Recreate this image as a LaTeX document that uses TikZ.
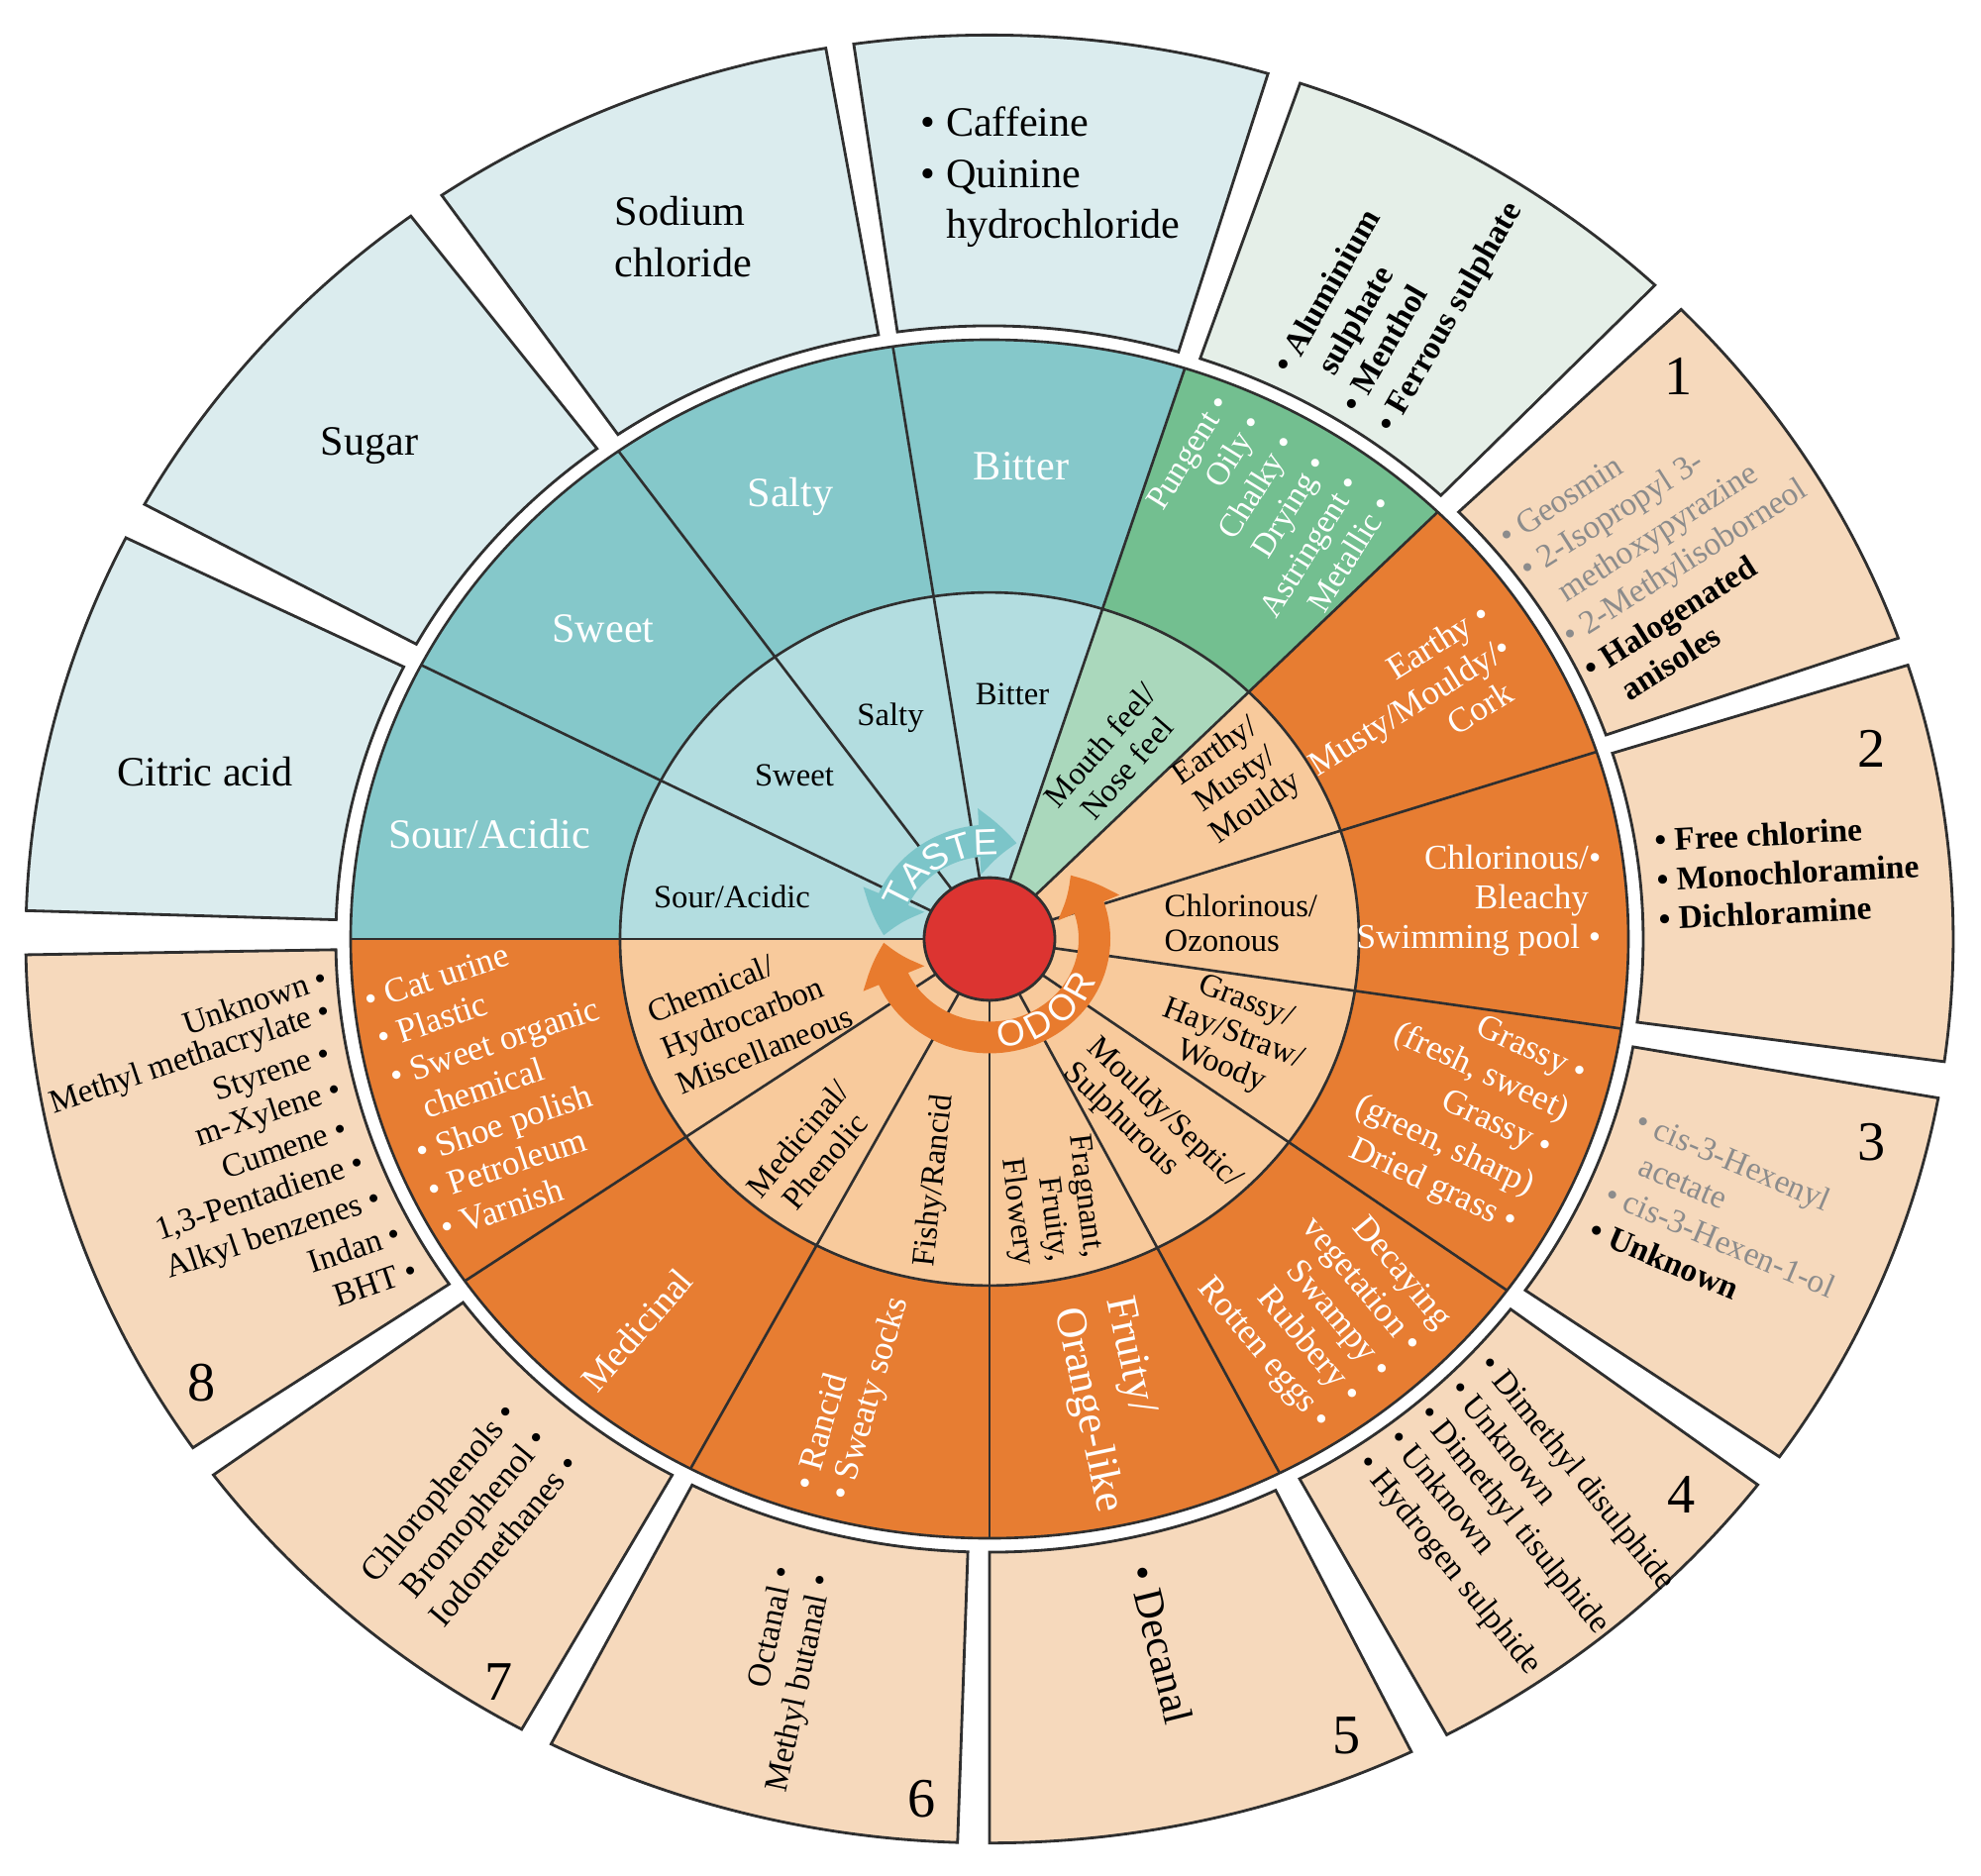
\documentclass[tikz,border=0pt]{standalone}
\usepackage{fontspec}
\setmainfont{Liberation Serif}
\setsansfont{Liberation Sans}
\usetikzlibrary{arrows.meta, bending}

\definecolor{lineclr}{HTML}{2F2F2F}
\definecolor{tasteout}{HTML}{DBECEE}
\definecolor{tastemid}{HTML}{85C8CA}
\definecolor{tasteinn}{HTML}{B3DDE0}
\definecolor{mouthout}{HTML}{E5EFE8}
\definecolor{mouthmid}{HTML}{73BF90}
\definecolor{mouthinn}{HTML}{AAD8BC}
\definecolor{odorout}{HTML}{F6D9BC}
\definecolor{odormid}{HTML}{E77D32}
\definecolor{odorinn}{HTML}{F8CA9C}
\definecolor{centreclr}{HTML}{DC3431}
\definecolor{tastearr}{HTML}{7CC5C9}
\definecolor{odorarr}{HTML}{E87B2E}
\definecolor{greytxt}{HTML}{8C8C8C}

\begin{document}
\begin{tikzpicture}[
    x=0.1mm, y=0.1mm,
    % outer boxes holding the compounds
    outerbox/.style={draw=lineclr, line width=0.8pt, fill=#1},
    radline/.style={draw=lineclr, line width=0.75pt},
    bandarrow/.style={line width=3.2mm, draw=#1,
        {Triangle[length=3.8mm, width=6.4mm, bend]}-{Triangle[length=3.8mm, width=6.4mm, bend]}},
    % text styles
    outerlbl/.style={font=\fontsize{12}{14.7}\selectfont, align=center, inner sep=0pt},
    midlbl/.style={text=white, font=\fontsize{12}{14.5}\selectfont, align=center, inner sep=0pt},
    innlbl/.style={font=\fontsize{9.3}{10}\selectfont, align=center, inner sep=0pt},
    wlist/.style={text=white, font=\fontsize{10}{11.3}\selectfont, inner sep=0pt},
    blist/.style={font=\fontsize{9.5}{11.3}\selectfont, inner sep=0pt},
    boldlist/.style={font=\fontsize{9.5}{11.3}\selectfont\bfseries, inner sep=0pt},
    boxnum/.style={font=\fontsize{16}{16}\selectfont, inner sep=0pt},
    arcletter/.style={text=white, font=\sffamily\fontsize{10.5}{10.5}\selectfont, inner sep=0pt}
  ]

  \fill[white] (0,0) rectangle (2000,-1894);
  \useasboundingbox (0,0) rectangle (2000,-1894);

  % ==========================================
  % WHEEL (centre of the picture)
  % ==========================================
  \begin{scope}[shift={(999,-948)}, yscale=0.938]

    % outer ring of boxes
    \foreach \a/\b/\c in {153.65/178.2/tasteout, 126.9/151.26/tasteout,
        99.78/124.64/tasteout, 73.2/98.1/tasteout, 46.33/71.2/mouthout,
        19.44/44.14/odorout, -7.8/17.64/odorout, -34.95/-10.13/odorout,
        -61.68/-37.14/odorout, -90/-64.04/odorout, -117.06/-91.9/odorout,
        -143.64/-119.04/odorout, -179/-145.75/odorout}
      \draw[outerbox=\c] (\a:660) arc[start angle=\a, end angle=\b, radius=660]
        -- (\b:973) arc[start angle=\b, end angle=\a, radius=973] -- cycle;

    % sectors: middle band and inner band
    \foreach \a/\b/\m/\i in {152.8/180/tastemid/tasteinn, 125.5/152.8/tastemid/tasteinn,
        98.7/125.5/tastemid/tasteinn, 72.2/98.7/tastemid/tasteinn,
        45.45/72.2/mouthmid/mouthinn, 18.2/45.45/odormid/odorinn,
        -8.6/18.2/odormid/odorinn, -35.9/-8.6/odormid/odorinn,
        -63/-35.9/odormid/odorinn, -90/-63/odormid/odorinn,
        -117.9/-90/odormid/odorinn, -145.2/-117.9/odormid/odorinn,
        -180/-145.2/odormid/odorinn}
    {
      \fill[\m] (0,0) -- (\a:645) arc[start angle=\a, end angle=\b, radius=645] -- cycle;
      \fill[\i] (0,0) -- (\a:373) arc[start angle=\a, end angle=\b, radius=373] -- cycle;
    }

    \draw[radline] (0,0) circle[radius=373];
    \draw[radline] (0,0) circle[radius=645];
    \foreach \a in {180,152.8,125.5,98.7,72.2,45.45,18.2,-8.6,-35.9,-63,-90,-117.9,-145.2}
      \draw[radline] (\a:66) -- (\a:645);

    % taste / odor arrows round the centre
    \draw[bandarrow=tastearr] (75:106) arc[start angle=75, end angle=178, radius=106];
    \draw[bandarrow=odorarr] (40:106) arc[start angle=40, end angle=-178, radius=106];

    \filldraw[fill=centreclr, draw=lineclr, line width=0.8pt] (0,0) circle[radius=66];

    \foreach \ch/\ang [count=\k] in {T/153, A/137, S/122, T/107, E/92}
      \node[arcletter, rotate=\ang-90] (tasteL\k) at (\ang:104) {\ch};
    \foreach \ch/\ang [count=\k] in {O/-78, D/-62, O/-45, R/-29}
      \node[arcletter, rotate=\ang+90] (odorL\k) at (\ang:104) {\ch};
  \end{scope}

  % ==========================================
  % TASTE LABELS
  % ==========================================
  \node[outerlbl] (citric) at (207,-779) {Citric acid};
  \node[outerlbl] (sugar) at (373,-450) {Sugar};
  \node[outerlbl, align=left] (sodium) at (690,-239) {Sodium\\chloride};
  \node[outerlbl, align=left, anchor=west] (bitterlist) at (929,-179)
    {\textbullet\ Caffeine\\\textbullet\ Quinine\\\phantom{\textbullet\ }hydrochloride};
  \node[boldlist, align=left, rotate=60] (mouthlist) at (1413,-291)
    {\textbullet\ Aluminium\\\phantom{\textbullet\ }sulphate\\\textbullet\ Menthol\\\textbullet\ Ferrous sulphate};

  \node[midlbl] (sourM) at (494,-842) {Sour/Acidic};
  \node[midlbl] (sweetM) at (609,-635) {Sweet};
  \node[midlbl] (saltyM) at (798,-501) {Salty};
  \node[midlbl] (bitterM) at (1031,-471) {Bitter};
  \node[wlist, font=\fontsize{9.5}{11}\selectfont, align=right, anchor=east, rotate=58] (mouthM) at (1316,-452)
    {Pungent \textbullet\\Oily \textbullet\\Chalky \textbullet\\Drying \textbullet\\Astringent \textbullet\\Metallic \textbullet};

  \node[innlbl] (sourI) at (739,-905) {Sour/Acidic};
  \node[innlbl] (sweetI) at (802,-783) {Sweet};
  \node[innlbl] (saltyI) at (899,-725) {Salty};
  \node[innlbl] (bitterI) at (1022,-701) {Bitter};
  \node[innlbl, rotate=49] (mouthI) at (1124,-764) {Mouth feel/\\Nose feel};

  % ==========================================
  % ODOR LABELS
  % ==========================================
  \node[innlbl, rotate=35] (earthyI) at (1248,-788) {Earthy/\\Musty/\\Mouldy};
  \node[innlbl, align=left, anchor=west] (chlorI) at (1175,-932) {Chlorinous/\\Ozonous};
  \node[innlbl, rotate=-21] (grassyI) at (1245,-1045) {Grassy/\\Hay/Straw/\\Woody};
  \node[innlbl, align=left, rotate=-44] (mouldyI) at (1163,-1137) {Mouldy/Septic/\\Sulphurous};
  \node[innlbl, align=right, rotate=-83] (fruityI) at (1060,-1212) {Fragnant,\\Fruity,\\Flowery};
  \node[innlbl, rotate=84] (fishyI) at (944,-1192) {Fishy/Rancid};
  \node[innlbl, rotate=50] (medI) at (819,-1161) {Medicinal/\\Phenolic};
  \node[innlbl, font=\fontsize{9.3}{11}\selectfont, align=left, rotate=22] (chemI) at (757,-1024)
    {Chemical/\\Hydrocarbon\\Miscellaneous};

  \node[wlist, align=right, anchor=east, rotate=32] (earthyM) at (1522,-650)
    {Earthy \textbullet\\Musty/Mouldy/\textbullet\\Cork\phantom{/\textbullet}};
  \node[wlist, align=right, anchor=east] (chlorM) at (1617,-909)
    {Chlorinous/\textbullet\\Bleachy\phantom{\textbullet}\\Swimming pool \textbullet};
  \node[wlist, font=\fontsize{10}{11.8}\selectfont, align=right, anchor=east, rotate=-25] (grassyM) at (1565,-1162)
    {Grassy \textbullet\\(fresh, sweet)\hspace*{1mm}\\Grassy \textbullet\\(green, sharp)\hspace*{0.5mm}\\Dried grass \textbullet};
  \node[wlist, align=right, anchor=east, rotate=-50] (mouldyM) at (1397,-1389)
    {Decaying\\vegetation \textbullet\\Swampy \textbullet\\Rubbery \textbullet\\Rotten eggs \textbullet};
  \node[midlbl, font=\fontsize{12.5}{15}\selectfont, align=left, anchor=west, rotate=-78] (fruityM) at (1101,-1315)
    {Fruity/\\Orange-like};
  \node[wlist, font=\fontsize{10}{10.6}\selectfont, align=left, anchor=west, rotate=74] (fishyM) at (832,-1510)
    {\textbullet\ Rancid\\\textbullet\ Sweaty socks};
  \node[wlist, font=\fontsize{10.5}{11}\selectfont, rotate=49] (medM) at (643,-1343) {Medicinal};
  \node[wlist, font=\fontsize{10}{11.5}\selectfont, align=left, anchor=west, rotate=18.5] (chemM) at (407,-1126)
    {\textbullet\ Cat urine\\\textbullet\ Plastic\\\textbullet\ Sweet organic\\\phantom{\textbullet\ }chemical\\\textbullet\ Shoe polish\\\textbullet\ Petroleum\\\textbullet\ Varnish};

  % ==========================================
  % NUMBERED COMPOUND BOXES
  % ==========================================
  \node[boxnum] (num1) at (1695,-380) {1};
  \node[boxnum] (num2) at (1890,-756) {2};
  \node[boxnum] (num3) at (1890,-1153) {3};
  \node[boxnum] (num4) at (1698,-1509) {4};
  \node[boxnum] (num5) at (1360,-1752) {5};
  \node[boxnum] (num6) at (931,-1816) {6};
  \node[boxnum] (num7) at (504,-1698) {7};
  \node[boxnum] (num8) at (204,-1396) {8};

  \node[blist, align=left, anchor=west, rotate=32.5] (list1) at (1569,-627)
    {\textcolor{greytxt}{\textbullet\ Geosmin}\\\textcolor{greytxt}{\textbullet\ 2-Isopropyl 3-}\\
     \textcolor{greytxt}{\phantom{\textbullet\ }methoxypyrazine}\\\textcolor{greytxt}{\textbullet\ 2-Methylisoborneol}\\
     \textbf{\textbullet\ Halogenated}\\\textbf{\phantom{\textbullet\ }anisoles}};
  \node[boldlist, align=left, anchor=west, rotate=3] (list2) at (1672,-888)
    {\textbullet\ Free chlorine\\\textbullet\ Monochloramine\\\textbullet\ Dichloramine};
  \node[blist, align=left, anchor=west, rotate=-23] (list3) at (1630,-1185)
    {\textcolor{greytxt}{\textbullet\ cis-3-Hexenyl}\\\textcolor{greytxt}{\phantom{\textbullet\ }acetate}\\
     \textcolor{greytxt}{\textbullet\ cis-3-Hexen-1-ol}\\\textbf{\textbullet\ Unknown}};
  \node[blist, align=left, anchor=west, rotate=-51] (list4) at (1437,-1423)
    {\textbullet\ Dimethyl disulphide\\\textbullet\ Unknown\\\textbullet\ Dimethyl tisulphide\\\textbullet\ Unknown\\\textbullet\ Hydrogen sulphide};
  \node[outerlbl, rotate=-76] (list5) at (1172,-1660) {\textbullet\ Decanal};
  \node[blist, align=right, anchor=east, rotate=78] (list6) at (813,-1586)
    {Octanal \textbullet\\Methyl butanal \textbullet};
  \node[blist, font=\fontsize{9.8}{11.6}\selectfont, align=right, anchor=east, rotate=50] (list7) at (546,-1446)
    {Chlorophenols \textbullet\\Bromophenol \textbullet\\Iodomethanes \textbullet};
  \foreach \px/\py/\txt [count=\k] in {330/986/{Unknown}, 334/1022/{Methyl methacrylate},
      334/1065/{Styrene}, 345/1101/{m-Xylene}, 350/1138/{Cumene}, 367/1174/{1,3-Pentadiene},
      385/1211/{Alkyl benzenes}, 404/1244/{Indan}, 421/1281/{BHT}}
    \node[blist, anchor=east, rotate=18.5] (list8\k) at (\px,-\py) {\txt\ \textbullet};

\end{tikzpicture}
\end{document}
